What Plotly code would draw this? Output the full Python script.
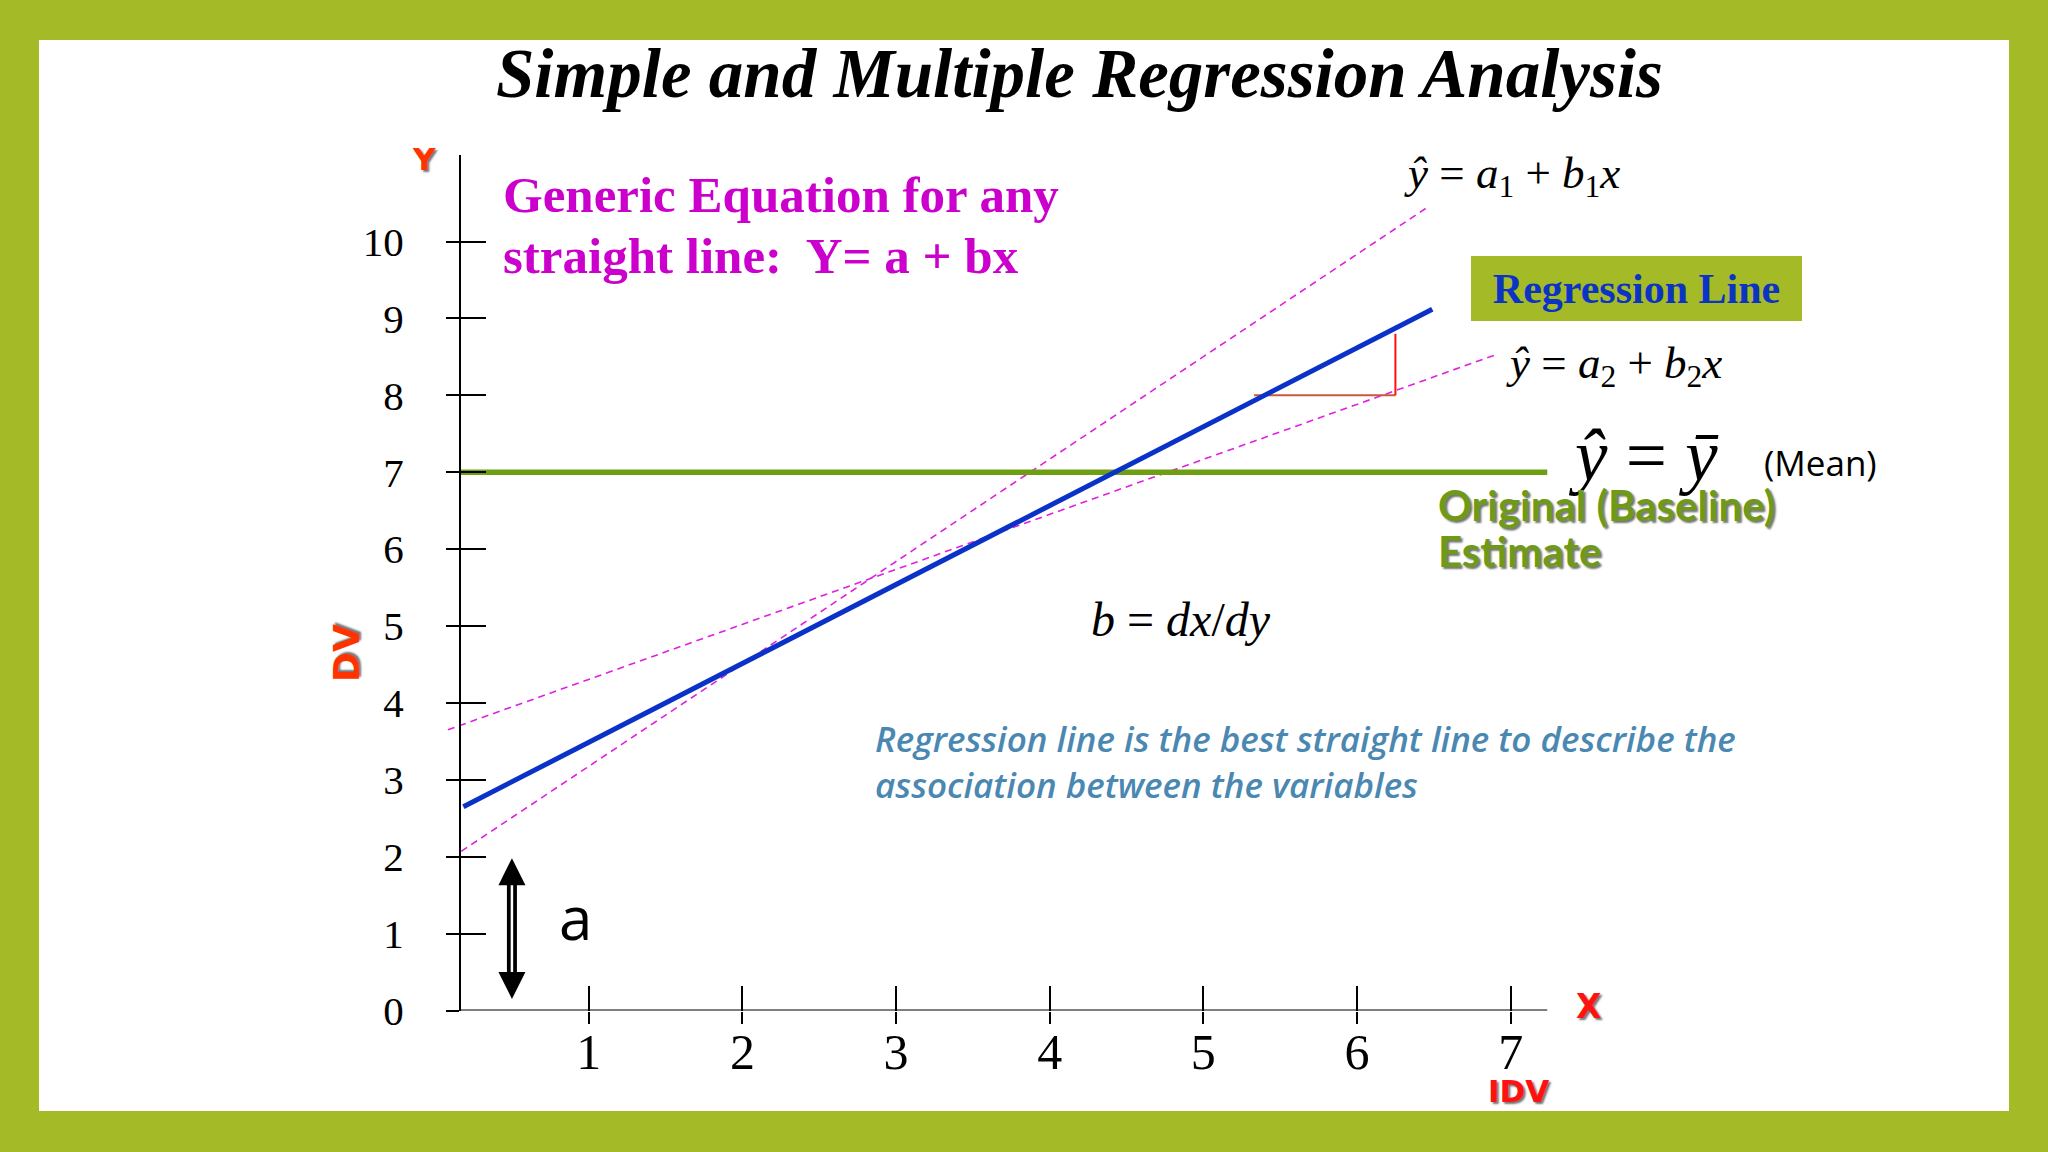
import plotly.graph_objects as go

W, H = 2048, 1152

# ---------------- data ----------------
X_TICKS = [1, 2, 3, 4, 5, 6, 7]
Y_TICKS = [0, 1, 2, 3, 4, 5, 6, 7, 8, 9, 10]
X_RANGE = [0.05, 7.24]
Y_RANGE = [0, 11.13]
AXIS_X = 0.162           # where the vertical axis crosses the x scale

MEAN_X = [0.162, 7.24]
MEAN_Y = [7.0, 7.0]

REG_X = [0.184, 6.49]
REG_Y = [2.65, 9.12]

LINE1_X = [0.17, 6.47]   # y^ = a1 + b1 x (steeper)
LINE1_Y = [2.07, 10.46]

LINE2_X = [0.083, 6.92]  # y^ = a2 + b2 x (flatter)
LINE2_Y = [3.65, 8.54]

SLOPE_H_X = [5.33, 6.25]
SLOPE_H_Y = [8.0, 8.0]
SLOPE_V_X = [6.25, 6.25]
SLOPE_V_Y = [8.0, 8.8]

ARROW_X = [0.5, 0.5]
ARROW_TIPS_Y = [1.98, 0.15]
ARROW_SHAFT_Y = [1.66, 0.47]

# ---------------- style ----------------
FRAME = "#A5BA27"
SERIF = "Liberation Serif"
# pixel calibration of the plot area
X0_PX, X_UNIT = 435.1, 153.65
Y0_PX, Y_UNIT = 1010.5, 76.9


def px(x):
    return x / W


def py(y):
    return 1 - y / H


xdom = [(X0_PX + X_UNIT * X_RANGE[0]) / W, (X0_PX + X_UNIT * X_RANGE[1]) / W]
ydom = [1 - (Y0_PX - Y_UNIT * Y_RANGE[0]) / H, 1 - (Y0_PX - Y_UNIT * Y_RANGE[1]) / H]
ypos = (X0_PX + X_UNIT * AXIS_X) / W

fig = go.Figure()

dash = "7px,5px"
fig.add_trace(go.Scatter(x=LINE1_X, y=LINE1_Y, mode="lines",
                         line=dict(color="#E020E0", width=1.6, dash=dash), hoverinfo="skip"))
fig.add_trace(go.Scatter(x=LINE2_X, y=LINE2_Y, mode="lines",
                         line=dict(color="#E020E0", width=1.6, dash=dash), hoverinfo="skip"))
fig.add_trace(go.Scatter(x=MEAN_X, y=MEAN_Y, mode="lines",
                         line=dict(color="#6E9E12", width=5.5), hoverinfo="skip"))
fig.add_trace(go.Scatter(x=SLOPE_H_X, y=SLOPE_H_Y, mode="lines",
                         line=dict(color="#C85A3C", width=2), hoverinfo="skip"))
fig.add_trace(go.Scatter(x=SLOPE_V_X, y=SLOPE_V_Y, mode="lines",
                         line=dict(color="#FF1010", width=2), hoverinfo="skip"))
fig.add_trace(go.Scatter(x=REG_X, y=REG_Y, mode="lines",
                         line=dict(color="#0A32C8", width=5), hoverinfo="skip"))
# double-headed arrow for the intercept "a"
fig.add_trace(go.Scatter(x=ARROW_X, y=ARROW_SHAFT_Y, mode="lines",
                         line=dict(color="black", width=10), hoverinfo="skip"))
fig.add_trace(go.Scatter(x=ARROW_X, y=ARROW_SHAFT_Y, mode="lines",
                         line=dict(color="white", width=2.5), hoverinfo="skip"))
fig.add_trace(go.Scatter(x=ARROW_X, y=ARROW_TIPS_Y, mode="markers", hoverinfo="skip",
                         marker=dict(symbol=["arrow-up", "arrow-down"], size=27, color="black",
                                     line=dict(width=0))))
# invisible trace to carry the overlay axes (crossing ticks)
fig.add_trace(go.Scatter(x=X_TICKS[:1], y=Y_TICKS[:1], mode="markers", xaxis="x2", yaxis="y2",
                         marker=dict(opacity=0), hoverinfo="skip"))

tick_common = dict(showgrid=False, zeroline=False, tickcolor="black", tickwidth=2, automargin=False)

fig.update_layout(
    width=W, height=H, margin=dict(l=0, r=0, t=0, b=0, pad=0, autoexpand=False),
    paper_bgcolor=FRAME, plot_bgcolor="white", showlegend=False,
    xaxis=dict(domain=xdom, range=X_RANGE, showline=False, ticks="inside", ticklen=25,
               tickvals=X_TICKS, tickfont=dict(family=SERIF, size=50, color="black"),
               ticklabelstandoff=7, anchor="y", **tick_common),
    xaxis2=dict(domain=xdom, range=X_RANGE, overlaying="x", anchor="y2", showline=False,
                ticks="outside", ticklen=12, tickvals=X_TICKS, showticklabels=False, **tick_common),
    yaxis=dict(domain=ydom, range=Y_RANGE, anchor="free", position=ypos, showline=True,
               linecolor="black", linewidth=2, ticks="outside", ticklen=13, tickvals=Y_TICKS,
               tickfont=dict(family=SERIF, size=41, color="black"), ticklabelstandoff=34,
               **tick_common),
    yaxis2=dict(domain=ydom, range=Y_RANGE, overlaying="y", anchor="free", position=ypos,
                showline=False, ticks="inside", ticklen=25, tickvals=Y_TICKS,
                showticklabels=False, **tick_common),
    shapes=[
        dict(type="rect", xref="paper", yref="paper", x0=px(39), x1=px(2009), y0=py(1111), y1=py(40),
             fillcolor="white", line=dict(width=0), layer="below"),
        dict(type="line", xref="x", yref="y", x0=AXIS_X, x1=X_RANGE[1], y0=0, y1=0,
             line=dict(color="black", width=2)),
    ],
)

ann = []
shadow = "2px 2px 2px rgba(0,0,0,0.55)"


def text(t, x, y, size, color="black", family=SERIF, xanchor="left", shadow_on=False,
         weight=None, style=None, **kw):
    font = dict(family=family, size=size, color=color)
    if shadow_on:
        font["shadow"] = shadow
    if weight:
        font["weight"] = weight
    if style:
        font["style"] = style
    ann.append(dict(text=t, x=px(x), y=py(y), xref="paper", yref="paper", showarrow=False,
                    xanchor=xanchor, yanchor="middle", font=font, **kw))


text("<b><i>Simple and Multiple Regression Analysis</i></b>", 1079, 74, 69, xanchor="center")
text("<b>Generic Equation for any</b>", 501, 195, 51, color="#CC00CC")
text("<b>straight line:  Y= a + bx</b>", 501, 256, 51, color="#CC00CC")
text("<i>ŷ</i> = <i>a</i><sub>1</sub> + <i>b</i><sub>1</sub><i>x</i>", 1402, 176, 45)
text("<i>ŷ</i> = <i>a</i><sub>2</sub> + <i>b</i><sub>2</sub><i>x</i>", 1504, 366, 45)
text("<i>ŷ</i> = <i>ȳ</i>", 1566, 455, 73)
text("(Mean)", 1762, 462, 35, family="Open Sans")
ann.append(dict(text="<b>Regression Line</b>", x=px(1636.5), y=py(288.5), xref="paper", yref="paper",
                showarrow=False, xanchor="center", yanchor="middle", width=331, height=65,
                bgcolor=FRAME, borderpad=0, borderwidth=0,
                font=dict(family=SERIF, size=42, color="#0B33C4")))
text("<b>Original (Baseline)</b>", 1436, 505, 42, color="#6E9A17", family="Lato", shadow_on=True)
text("<b>Estimate</b>", 1436, 551, 42, color="#6E9A17", family="Lato", shadow_on=True)
text("<i>b</i> = <i>dx</i>/<i>dy</i>", 1181, 619, 48, xanchor="center")
text("Regression line is the best straight line to describe the", 873, 738, 35,
     color="#4A88B2", family="Open Sans", weight=600, style="italic")
text("association between the variables", 873, 784, 35,
     color="#4A88B2", family="Open Sans", weight=600, style="italic")
text("a", 575, 917, 60, family="Open Sans", xanchor="center")
text("<b>Y</b>", 424, 159, 31, color="#FF3300", family="DejaVu Sans", xanchor="center", shadow_on=True)
text("<b>X</b>", 1588, 1006, 33, color="#FF1111", family="DejaVu Sans", xanchor="center", shadow_on=True)
text("<b>IDV</b>", 1518, 1091, 31, color="#FF1111", family="DejaVu Sans", xanchor="center",
     shadow_on=True)
text("<b>DV</b>", 346, 653, 36, color="#FF3300", family="DejaVu Sans", xanchor="center",
     textangle=-90, shadow_on=True)

fig.update_layout(annotations=ann)
fig.write_html("out.html", config={"displayModeBar": False},
               post_script="document.body.style.margin='0px';")
